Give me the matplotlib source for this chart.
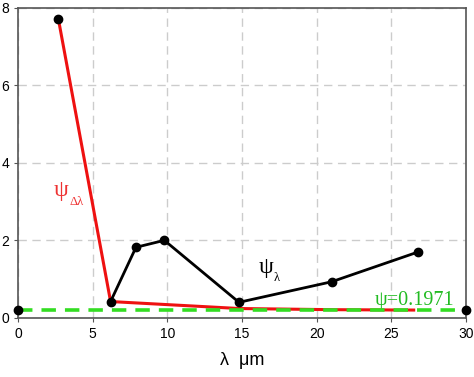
import numpy as np
from matplotlib import pyplot as plt

plt.rcParams['font.family'] = ['Liberation Sans', 'DejaVu Sans']

# psi_lambda (black)
lam_b = [6.2, 7.9, 9.8, 14.8, 21.0, 26.8]
psi_b = [0.42, 1.82, 2.0, 0.40, 0.93, 1.70]
# psi_delta_lambda (red)
lam_r = [2.7, 6.2, 14.8, 21.0, 26.5]
psi_r = [7.72, 0.42, 0.24, 0.21, 0.20]
# threshold
psi_min = 0.1971
lam_lim = [0, 30]

fig = plt.figure(figsize=(4.74, 3.77), dpi=100)
ax = fig.add_axes([0.038, 0.157, 0.945, 0.822])

ax.plot(lam_r, psi_r, color='#ee1111', lw=2.2, zorder=3)
ax.plot(lam_r[:1], psi_r[:1], 'o', color='black', ms=6, zorder=5)
ax.plot(lam_b, psi_b, '-o', color='black', lw=2.0, ms=6, zorder=4)
ax.plot(lam_lim, [psi_min, psi_min], '--', color='#33dd22', lw=2.6, dashes=(4, 2.5), zorder=4)
ax.plot(lam_lim, [psi_min, psi_min], 'o', color='black', ms=6, zorder=5, clip_on=False)

serif = 'Liberation Serif'
ax.text(2.4, 3.15, 'ψ', color='#ee3333', fontsize=17, family=serif)
ax.text(3.45, 2.92, 'Δλ', color='#ee3333', fontsize=9, family=serif)
ax.text(16.1, 1.15, 'ψ', color='black', fontsize=17, family=serif)
ax.text(17.15, 0.95, 'λ', color='black', fontsize=9, family=serif)
ax.text(23.9, 0.32, 'ψ=0.1971', color='#22bb22', fontsize=14.5, family=serif)

ax.set_xlim(0, 30)
ax.set_ylim(0, 8)
ax.set_xticks([0, 5, 10, 15, 20, 25, 30])
ax.set_yticks([0, 2, 4, 6, 8])
ax.grid(True, color='#cccccc', ls=(0, (6, 4)), lw=1.0)
ax.set_axisbelow(True)
for s in ax.spines.values():
    s.set_color('#555555')
    s.set_linewidth(1.2)
ax.tick_params(direction='out', length=3, labelsize=10, colors='#555555', labelcolor='black')
ax.set_xlabel('λ  μm', fontsize=13, labelpad=8)

plt.savefig('out.png', dpi=100)
